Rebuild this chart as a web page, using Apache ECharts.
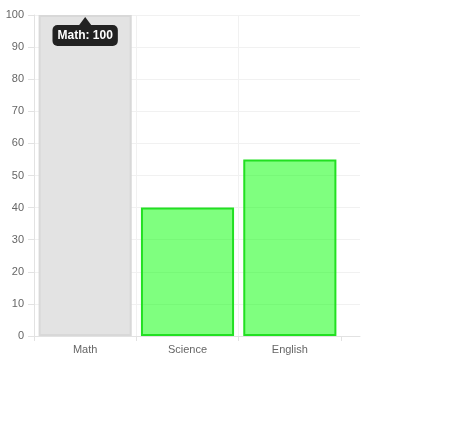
<!DOCTYPE html>
<html>
<head>
<meta charset="utf-8">
<script src="https://cdn.jsdelivr.net/npm/echarts@6/dist/echarts.min.js"></script>
<style>
  html, body { margin: 0; padding: 0; background: #fff; }
  #main { width: 474px; height: 424px; }
</style>
</head>
<body>
<div id="main"></div>
<script>
'use strict'
// subject scores, Math bar shown in its hovered state

var subjects = ['Math', 'Science', 'English'];
var scores = [100, 40, 55];
var yTicks = [0, 10, 20, 30, 40, 50, 60, 70, 80, 90, 100];

var gridColor = '#f1f1f1';
var axisColor = '#e2e2e2';
var textColor = '#666';
var font = 'Liberation Sans, Arial, sans-serif';

var barData = scores.map(function (v, i) {
    if (i === 0) {
        return {
            value: v,
            itemStyle: { color: '#e3e3e3', borderColor: '#d8d8d8' },
            label: {
                show: true,
                position: 'insideTop',
                distance: 10,
                formatter: '{b}: {c}',
                color: '#fff',
                fontSize: 12,
                fontWeight: 'bold',
                fontFamily: font,
                backgroundColor: '#222',
                borderRadius: 5,
                padding: [5, 5, 4, 5]
            }
        };
    }
    return v;
});

var option = {
    animation: false,
    grid: [
        { left: 34, right: 133, top: 15, bottom: 88 },
        { left: 34, right: 114, top: 15, bottom: 88 }
    ],
    xAxis: [
        {
            type: 'category',
            gridIndex: 0,
            data: subjects,
            axisLine: { show: false },
            axisTick: { show: true, length: 5, lineStyle: { color: axisColor } },
            splitLine: { show: true, showMinLine: false, showMaxLine: false, lineStyle: { color: gridColor } },
            axisLabel: { color: textColor, fontSize: 11, margin: 8, fontFamily: font }
        },
        {
            type: 'value',
            gridIndex: 1,
            min: 0,
            max: 1,
            axisLine: { show: true, lineStyle: { color: axisColor } },
            axisTick: { show: false },
            axisLabel: { show: false },
            splitLine: { show: false }
        }
    ],
    yAxis: [
        {
            type: 'value',
            gridIndex: 0,
            min: yTicks[0],
            max: yTicks[yTicks.length - 1],
            interval: 10,
            axisLine: { show: true, lineStyle: { color: axisColor } },
            axisTick: { show: true, length: 6, lineStyle: { color: axisColor } },
            splitLine: { show: false },
            axisLabel: { color: textColor, fontSize: 11, margin: 10, fontFamily: font }
        },
        {
            type: 'value',
            gridIndex: 1,
            min: yTicks[0],
            max: yTicks[yTicks.length - 1],
            interval: 10,
            axisLine: { show: false },
            axisTick: { show: false },
            axisLabel: { show: false },
            splitLine: { show: true, lineStyle: { color: gridColor } }
        }
    ],
    series: [
        {
            type: 'bar',
            xAxisIndex: 0,
            yAxisIndex: 0,
            data: barData,
            barCategoryGap: '9%',
            silent: true,
            z: 3,
            itemStyle: {
                color: 'rgba(0,255,0,0.5)',
                borderColor: '#22e022',
                borderWidth: 2
            },
            emphasis: { disabled: true },
            markPoint: {
                silent: true,
                symbol: 'triangle',
                symbolSize: [12, 8],
                symbolOffset: [0, 6],
                label: { show: false },
                itemStyle: { color: '#222', borderWidth: 0 },
                data: [{ coord: [subjects[0], scores[0]] }]
            }
        }
    ]
};

var chart = echarts.init(document.getElementById('main'));
chart.setOption(option);
</script>
</body>
</html>
